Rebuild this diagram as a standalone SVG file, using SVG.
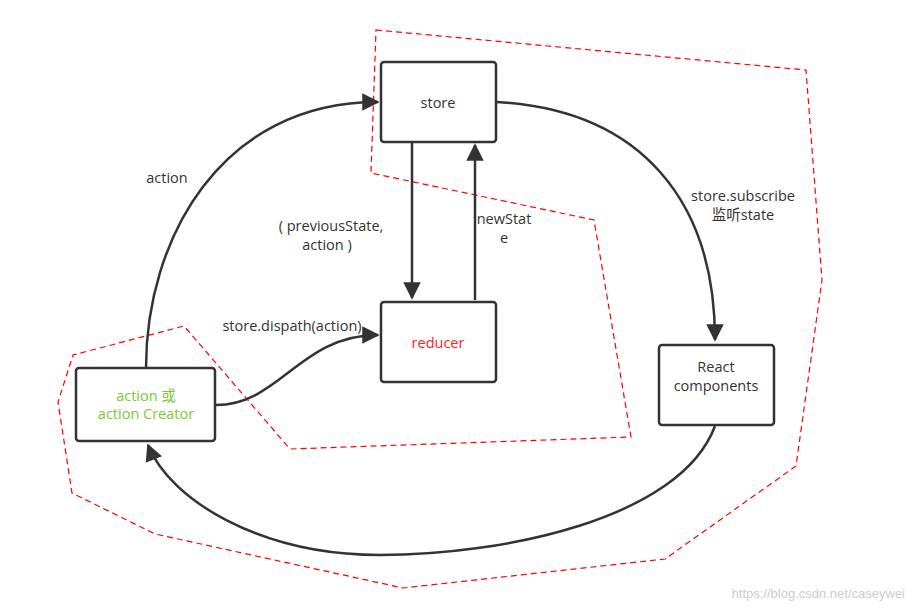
<svg xmlns="http://www.w3.org/2000/svg" width="917" height="609" viewBox="0 0 917 609">
<style>
.box{fill:#fff;stroke:#333;stroke-width:2.5}
.t{font-family:"Open Sans","Noto Sans CJK SC",sans-serif;font-size:14.5px;fill:#333;text-anchor:middle}
.c{fill:none;stroke:#333;stroke-width:2.5}
.d{fill:none;stroke:#f00;stroke-width:1.2;stroke-dasharray:6,4}
</style>
<defs>
<marker id="b" viewBox="0 0 10 10" refX="9" refY="5" markerWidth="7" markerHeight="7" orient="auto"><path d="M0,0 L10,5 L0,10 z" fill="#333"/></marker></defs>
<rect width="917" height="609" fill="#fff"/>
<g id="regions">
<polygon class="d" points="376,30 806,70 822,280 796,466 665,559 403,588 155,534 72,493 58,402 73,355 184,326 290,449 631,437 594,220 371,173"/>
</g>
<g id="connectors">
<path class="c" marker-end="url(#b)" d="M146,368 C146,240 220,102 378,102"/>
<path class="c" marker-end="url(#b)" d="M216,405 C280,405 300,335 378,335"/>
<path class="c" marker-end="url(#b)" d="M412,143 L412,298"/>
<path class="c" marker-end="url(#b)" d="M475,300 L475,145"/>
<path class="c" marker-end="url(#b)" d="M497,102 C640,110 715,200 715,340"/>
<path class="c" marker-end="url(#b)" d="M715,426 C680,520 500,555 380,555 C260,555 170,500 148,445"/>
</g>
<g class="t">
<text x="167" y="183">action</text>
<text x="331" y="231">( previousState,</text>
<text x="327" y="250">action )</text>
<text x="504" y="224">newStat</text>
<text x="504" y="243">e</text>
<text x="292" y="331">store.dispath(action)</text>
<text x="743" y="201">store.subscribe</text>
<text x="743" y="220">监听state</text>
</g>
<g id="store"><rect class="box" x="381" y="62" width="115" height="80" rx="3"/><text class="t" x="438" y="108">store</text></g>
<g id="reducer"><rect class="box" x="381" y="302" width="115" height="80" rx="3"/><text class="t" x="438" y="348" style="fill:#f22">reducer</text></g>
<g id="action"><rect class="box" x="76" y="368" width="139" height="73" rx="3"/><text class="t" x="146" y="401" style="fill:#7c3">action 或</text><text class="t" x="146" y="419" style="fill:#7c3">action Creator</text></g>
<g id="react"><rect class="box" x="659" y="345" width="115" height="80" rx="3"/><text class="t" x="716" y="372">React</text><text class="t" x="716" y="391">components</text></g>
<text x="905" y="598" style="font-family:'Liberation Sans',sans-serif;font-size:13px;fill:#ccc;text-anchor:end">https://blog.csdn.net/caseywei</text>
</svg>
